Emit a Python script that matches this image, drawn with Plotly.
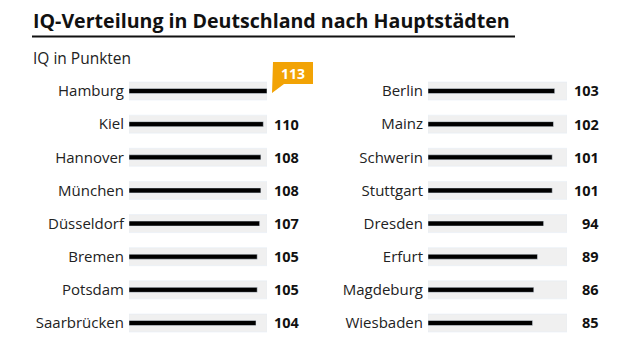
import plotly.graph_objects as go

W, H = 625, 348
left_cities = ["Hamburg", "Kiel", "Hannover", "München", "Düsseldorf", "Bremen", "Potsdam", "Saarbrücken"]
left_values = [113, 110, 108, 108, 107, 105, 105, 104]
right_cities = ["Berlin", "Mainz", "Schwerin", "Stuttgart", "Dresden", "Erfurt", "Magdeburg", "Wiesbaden"]
right_values = [103, 102, 101, 101, 94, 89, 86, 85]
title = "IQ-Verteilung in Deutschland nach Hauptstädten"
subtitle = "IQ in Punkten"
xmax = 113

FONT = "Open Sans"
BAND = "#f0f0f0"
ORANGE = "#f2a305"

def px(x):
    return x / W

def py(y):
    return 1 - y / H

row_top, row_bot = 91, 323
step = (row_bot - row_top) / 7
ydom = [py(row_bot + step / 2), py(row_top - step / 2)]

fig = go.Figure()
panels = [
    (left_cities, left_values, "x", "y"),
    (right_cities, right_values, "x2", "y2"),
]
for cities, vals, xa, ya in panels:
    fig.add_trace(go.Bar(y=cities, x=[xmax] * len(cities), orientation="h",
                         marker_color=BAND, width=18 / step, xaxis=xa, yaxis=ya,
                         hoverinfo="skip", showlegend=False))
    fig.add_trace(go.Bar(y=cities, x=vals, orientation="h",
                         marker_color="#000000", width=5 / step, xaxis=xa, yaxis=ya,
                         showlegend=False))

axcommon = dict(showgrid=False, zeroline=False, showticklabels=False, fixedrange=True)
ycommon = dict(type="category", range=[7.5, -0.5], showgrid=False, zeroline=False,
               ticks="", tickfont=dict(family=FONT, size=15, color="#222"),
               ticklabelstandoff=4)
fig.update_layout(
    width=W, height=H, margin=dict(l=0, r=0, t=0, b=0),
    paper_bgcolor="white", plot_bgcolor="white", barmode="overlay",
    xaxis=dict(domain=[px(129), px(267)], range=[0, xmax], anchor="y", **axcommon),
    yaxis=dict(domain=ydom, anchor="x", **ycommon),
    xaxis2=dict(domain=[px(428), px(567)], range=[0, xmax], anchor="y2", **axcommon),
    yaxis2=dict(domain=ydom, anchor="x2", **ycommon),
)

ann = []
for c, v in zip(left_cities, left_values):
    if c == "Hamburg":
        continue
    ann.append(dict(x=px(272), xref="paper", y=c, yref="y", xanchor="left", yanchor="middle",
                    text=f"<b>{v}</b>", showarrow=False,
                    font=dict(family=FONT, size=14.5, color="#111")))
for c, v in zip(right_cities, right_values):
    ann.append(dict(x=px(601), xref="paper", y=c, yref="y2", xanchor="right", yanchor="middle",
                    text=f"<b>{v}</b>", showarrow=False,
                    font=dict(family=FONT, size=14.5, color="#111")))

# callout for max value
top_v = left_values[0]
bar_end = 129 + (267 - 129) * top_v / xmax
bx0, bx1, by0, by1 = bar_end + 6, bar_end + 46, 62, 84
ann.append(dict(x=px((bx0 + bx1) / 2), y=py((by0 + by1) / 2), xref="paper", yref="paper",
                text=f"<b>{top_v}</b>", showarrow=False, xanchor="center", yanchor="middle",
                font=dict(family=FONT, size=14, color="white")))
fig.add_shape(type="path", xref="paper", yref="paper",
              path=(f"M {px(bx0)},{py(by0)} L {px(bx1)},{py(by0)} L {px(bx1)},{py(by1)} "
                    f"L {px(bx0 + 11)},{py(by1)} L {px(bx0 - 1)},{py(93)} Z"),
              fillcolor=ORANGE, line=dict(width=0), layer="above")

ann.append(dict(x=px(31), y=py(20), xref="paper", yref="paper", xanchor="left", yanchor="middle",
                text=f"<b>{title}</b>", showarrow=False,
                font=dict(family=FONT, size=19.6, color="#111")))
ann.append(dict(x=px(31), y=py(58), xref="paper", yref="paper", xanchor="left", yanchor="middle",
                text=subtitle, showarrow=False,
                font=dict(family=FONT, size=15.5, color="#222")))
fig.add_shape(type="line", xref="paper", yref="paper", x0=px(32), x1=px(515),
              y0=py(36.5), y1=py(36.5), line=dict(color="#111", width=2))
fig.update_layout(annotations=ann)

fig.write_html("out.html")
